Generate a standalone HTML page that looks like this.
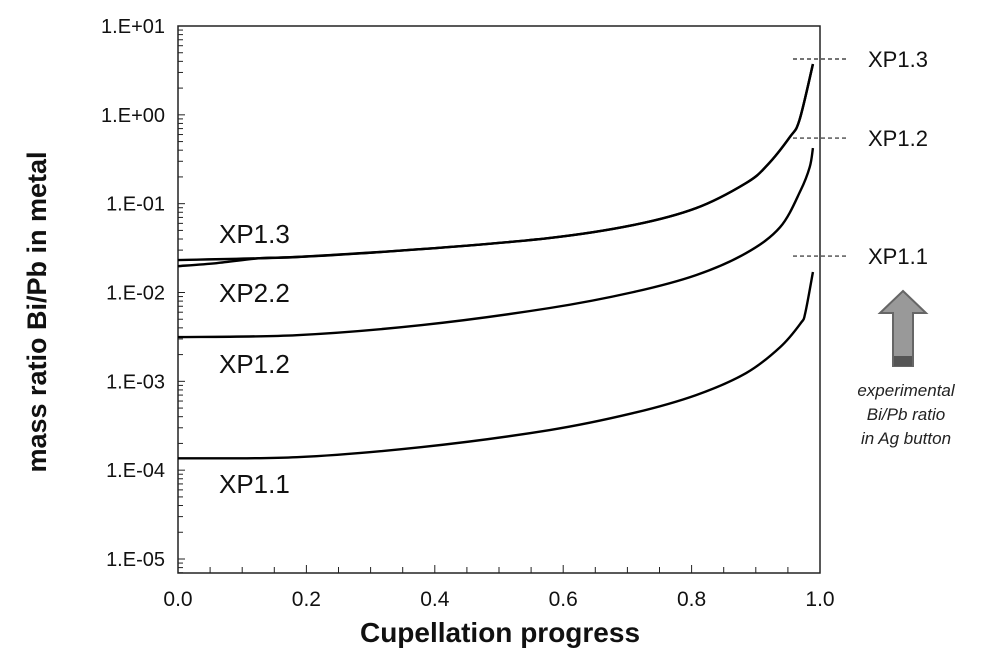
<!DOCTYPE html>
<html><head><meta charset="utf-8"><style>
html,body{margin:0;padding:0;background:#fff;}
svg{display:block;font-family:"Liberation Sans",Arial,sans-serif;}
</style></head><body>
<svg id="chart" width="989" height="663" viewBox="0 0 989 663">
<g id="grid"></g>
<g id="curves"></g>
<g id="labels"></g>
</svg>
<script>
const progressTop = [0, 0.185, 0.38, 0.578, 0.709, 0.807, 0.885, 0.918, 0.953, 0.968, 0.989];
const xp13 = [0.0232, 0.0251, 0.0308, 0.0410, 0.0574, 0.0891, 0.171, 0.272, 0.562, 0.873, 3.73];
const progressXP22 = [0, 0.06, 0.13, 0.185, 0.38, 0.578, 0.709, 0.807, 0.885, 0.918, 0.953, 0.968, 0.989];
const xp22 = [0.0198, 0.0214, 0.0244, 0.0251, 0.0308, 0.0410, 0.0574, 0.0891, 0.171, 0.272, 0.562, 0.873, 3.73];
const progressMid = [0, 0.185, 0.38, 0.578, 0.709, 0.807, 0.885, 0.938, 0.970, 0.984, 0.989];
const xp12 = [0.00315, 0.00331, 0.00430, 0.00667, 0.0101, 0.0157, 0.0278, 0.0545, 0.142, 0.258, 0.423];
const progressLow = [0, 0.185, 0.38, 0.578, 0.709, 0.807, 0.885, 0.938, 0.970, 0.977, 0.989];
const xp11 = [0.000136, 0.000140, 0.000182, 0.000282, 0.000439, 0.000700, 0.00124, 0.00243, 0.00452, 0.00586, 0.0170];
const xTickLabels = ["0.0","0.2","0.4","0.6","0.8","1.0"];
const yTickLabels = ["1.E-05","1.E-04","1.E-03","1.E-02","1.E-01","1.E+00","1.E+01"];
const experimental = [{name:"XP1.3", v:4.25},{name:"XP1.2", v:0.548},{name:"XP1.1", v:0.0257}];

const L=178,R=820,T=26,B=573,Y5=559;
const sx=v=>L+(R-L)*v;
const sy=v=>Y5-(Y5-T)*(Math.log10(v)+5)/6;
const NS="http://www.w3.org/2000/svg";
function mk(tag,attrs,parent){const e=document.createElementNS(NS,tag);for(const k in attrs)e.setAttribute(k,attrs[k]);parent.appendChild(e);return e;}
const g=document.getElementById('grid'),cg=document.getElementById('curves'),lg=document.getElementById('labels');

let fr=mk('rect',{x:L,y:T,width:R-L,height:B-T,fill:'none',stroke:'#222','stroke-width':1.5},g);

for(let d=-1;d<6;d++){for(let m=1;m<10;m++){const v=Math.pow(10,d-5)*m;const y=sy(v);if(y>B||y<T)continue;
 const t=mk('line',{x1:L,x2:L+(m===1?7:5),y1:y,y2:y,stroke:'#222','stroke-width':1},g);
 }}
yTickLabels.forEach((s,i)=>{const t=mk('text',{x:L-13,y:sy(Math.pow(10,i-5))+7,'text-anchor':'end','font-size':20,fill:'#111'},lg);t.textContent=s;
 });
for(let i=1;i<20;i++){const x=sx(i/20);const t=mk('line',{x1:x,x2:x,y1:B,y2:B-(i%4===0?8:6),stroke:'#222','stroke-width':1},g);
 }
xTickLabels.forEach((s,i)=>{const t=mk('text',{x:sx(i/5),y:B+33,'text-anchor':'middle','font-size':21,fill:'#111'},lg);t.textContent=s;
 });
let xt=mk('text',{x:500,y:642,'text-anchor':'middle','font-size':28,'font-weight':'bold',fill:'#111'},lg);xt.textContent='Cupellation progress';

let yt=mk('text',{x:0,y:0,'text-anchor':'middle','font-size':27,'font-weight':'bold',fill:'#111',transform:'translate(46,312) rotate(-90)'},lg);yt.textContent='mass ratio Bi/Pb in metal';


function pathFor(xs,vs){const p=xs.map((x,i)=>[sx(x),sy(vs[i])]);let d='M'+p[0][0]+','+p[0][1];
 for(let i=0;i<p.length-1;i++){const p0=p[Math.max(0,i-1)],p1=p[i],p2=p[i+1],p3=p[Math.min(p.length-1,i+2)];
  const c1=[p1[0]+(p2[0]-p0[0])/6,p1[1]+(p2[1]-p0[1])/6],c2=[p2[0]-(p3[0]-p1[0])/6,p2[1]-(p3[1]-p1[1])/6];
  d+=` C${c1[0]},${c1[1]} ${c2[0]},${c2[1]} ${p2[0]},${p2[1]}`;}return d;}
[[progressXP22,xp22,'curve-xp2-2'],[progressTop,xp13,'curve-xp1-3'],[progressMid,xp12,'curve-xp1-2'],[progressLow,xp11,'curve-xp1-1']].forEach(s=>{
 const p=mk('path',{d:pathFor(s[0],s[1]),fill:'none',stroke:'#000','stroke-width':2.4},cg);
 });
[['XP1.3',233],['XP2.2',292],['XP1.2',363],['XP1.1',483]].forEach(a=>{const t=mk('text',{x:219,y:a[1]+10,'font-size':26,fill:'#111'},lg);t.textContent=a[0];
 });
experimental.forEach(e=>{const y=sy(e.v);const l=mk('line',{x1:793,x2:846,y1:y,y2:y,stroke:'#222','stroke-width':1.2,'stroke-dasharray':'4,3'},g);
 
 const t=mk('text',{x:868,y:y+8,'font-size':22,fill:'#111'},lg);t.textContent=e.name;
 });
let ar=mk('path',{d:'M903,291 L926,313 L913,313 L913,366 L893,366 L893,313 L880,313 Z',fill:'#999',stroke:'#666','stroke-width':2},lg);

let ab=mk('rect',{x:894,y:356,width:18,height:10,fill:'#555'},lg);
[['experimental',396],['Bi/Pb ratio',420],['in Ag button',444]].forEach(a=>{const t=mk('text',{x:906,y:a[1],'text-anchor':'middle','font-size':17,'font-style':'italic',fill:'#222'},lg);t.textContent=a[0];
 });
</script>
</body></html>
